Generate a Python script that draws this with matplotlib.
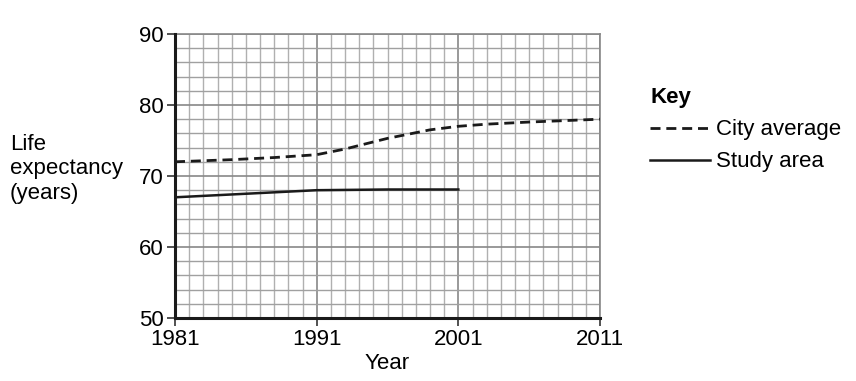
import matplotlib
matplotlib.use("Agg")
import matplotlib.pyplot as plt
import numpy as np

plt.rcParams['font.family'] = ['Liberation Sans', 'DejaVu Sans']

years_city = [1981, 1985, 1988, 1991, 1993, 1996, 1999, 2001, 2003, 2006, 2011]
city_avg = [72.0, 72.3, 72.6, 73.0, 73.8, 75.3, 76.5, 77.0, 77.3, 77.6, 78.0]
years_study = [1981, 1986, 1991, 1996, 2001]
study_area = [67.0, 67.5, 68.0, 68.1, 68.1]
x_ticks = [1981, 1991, 2001, 2011]
y_ticks = [50, 60, 70, 80, 90]

fs = 16
fig = plt.figure(figsize=(8.56, 3.81), dpi=100)
ax = fig.add_axes([175/856, 1-318/381, (600-175)/856, (318-34)/381])

ax.set_xlim(1981, 2011)
ax.set_ylim(50, 90)

# minor grid
for x in range(1981, 2012):
    major = (x - 1981) % 10 == 0
    ax.axvline(x, color='#888888' if major else '#b0b0b0', lw=1.2 if major else 1.0, zorder=1)
for y in range(50, 91, 2):
    major = y % 10 == 0
    ax.axhline(y, color='#888888' if major else '#a0a0a0', lw=1.2 if major else 1.0, zorder=1)

dash = (0, (3.6, 2.1))
ax.plot(years_city, city_avg, color='#1a1a1a', lw=2.0, ls=dash, zorder=3)
ax.plot(years_study, study_area, color='#1a1a1a', lw=1.8, zorder=3)

ax.set_xticks(x_ticks)
ax.set_yticks(y_ticks)
ax.tick_params(labelsize=fs, length=6, width=1.2, color='#333333', pad=2)
for s in ['left', 'bottom']:
    ax.spines[s].set_linewidth(2.2)
    ax.spines[s].set_color('#1a1a1a')
    ax.spines[s].set_zorder(4)
for s in ['top', 'right']:
    ax.spines[s].set_color('#888888')
    ax.spines[s].set_linewidth(1.2)

ax.set_xlabel('Year', fontsize=fs, labelpad=2)
fig.text(10/856, 1-169/381, 'Life\nexpectancy\n(years)', fontsize=fs, ha='left', va='center', linespacing=1.2)

# key
fig.text(650/856, 1-98/381, 'Key', fontsize=fs, fontweight='bold', ha='left', va='center')
fig.add_artist(plt.Line2D([650/856, 710/856], [1-128/381]*2, color='#1a1a1a', lw=2.0, ls=dash))
fig.add_artist(plt.Line2D([650/856, 710/856], [1-160/381]*2, color='#1a1a1a', lw=1.8))
fig.text(716/856, 1-129/381, 'City average', fontsize=fs, ha='left', va='center')
fig.text(716/856, 1-161/381, 'Study area', fontsize=fs, ha='left', va='center')

fig.savefig('out.png', dpi=100)
